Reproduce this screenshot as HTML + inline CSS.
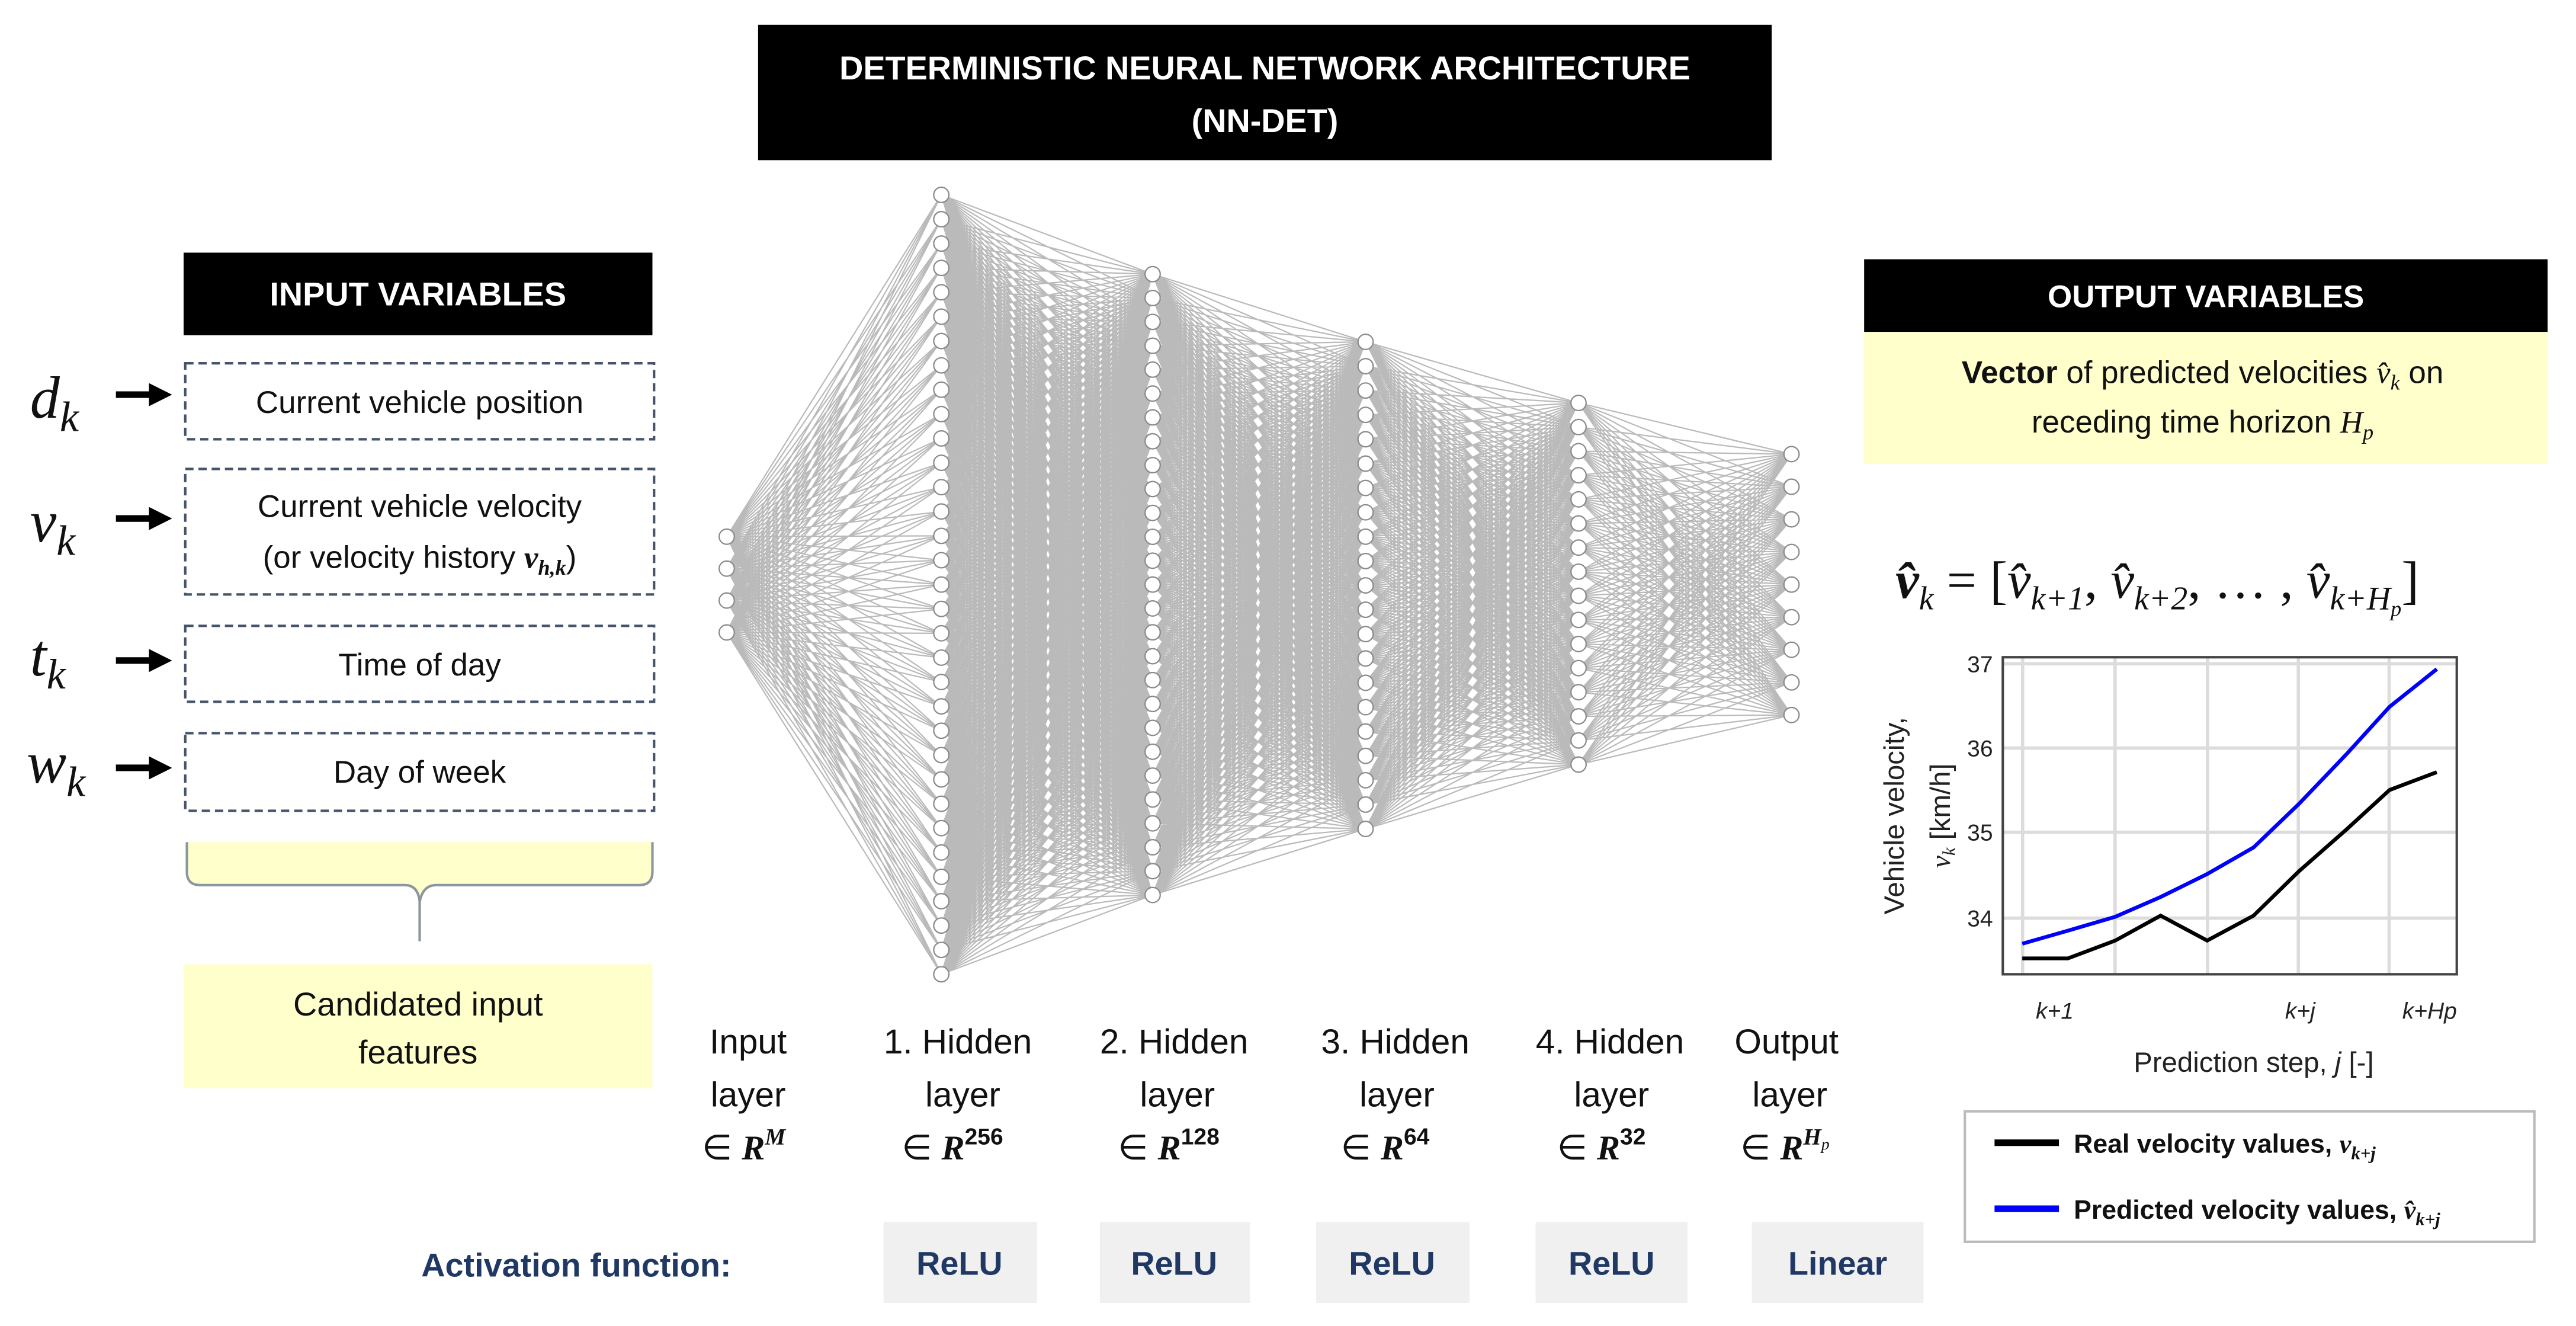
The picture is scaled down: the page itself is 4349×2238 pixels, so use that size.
<!DOCTYPE html>
<html><head><meta charset="utf-8"><style>
html,body{margin:0;padding:0;background:#fff;}
svg{display:block;}
text{font-family:"Liberation Sans",sans-serif;}
.s{font-family:"Liberation Serif",serif;font-style:italic;}
</style></head><body>
<svg id="sv" width="4349" height="2238" viewBox="0 0 1560 803" xmlns="http://www.w3.org/2000/svg">
<rect width="1560" height="803" fill="#fff"/>
<rect x="459" y="15" width="614" height="82" fill="#000"/>
<text x="766" y="48" fill="#fff" font-size="20" font-weight="bold" text-anchor="middle">DETERMINISTIC NEURAL NETWORK ARCHITECTURE</text>
<text x="766" y="80" fill="#fff" font-size="20" font-weight="bold" text-anchor="middle">(NN-DET)</text>
<rect x="111" y="153" width="284" height="50" fill="#000"/>
<text x="253" y="185" fill="#fff" font-size="20" font-weight="bold" text-anchor="middle">INPUT VARIABLES</text>
<g fill="none" stroke="#44546a" stroke-width="1.5" stroke-dasharray="5,3">
<rect x="112" y="220" width="284" height="46"/>
<rect x="112" y="284" width="284" height="76"/>
<rect x="112" y="379" width="284" height="46"/>
<rect x="112" y="444" width="284" height="47"/>
</g>
<g font-size="19" fill="#111" text-anchor="middle">
<text x="254" y="250">Current vehicle position</text>
<text x="254" y="313">Current vehicle velocity</text>
<text x="254" y="344">(or velocity history <tspan class="s" font-weight="bold">v</tspan><tspan class="s" font-size="13" dy="4" font-weight="bold">h,k</tspan><tspan dy="-4">)</tspan></text>
<text x="254" y="409">Time of day</text>
<text x="254" y="474">Day of week</text>
</g>
<g font-size="36" fill="#111">
<text x="18" y="253" class="s">d<tspan font-size="26" dy="8">k</tspan></text>
<text x="18" y="328" class="s">v<tspan font-size="26" dy="8">k</tspan></text>
<text x="18" y="409" class="s">t<tspan font-size="26" dy="8">k</tspan></text>
<text x="16" y="474" class="s">w<tspan font-size="26" dy="8">k</tspan></text>
</g>
<g stroke="#000" stroke-width="4">
<line x1="70" y1="239" x2="92" y2="239"/><line x1="70" y1="314" x2="92" y2="314"/>
<line x1="70" y1="400" x2="92" y2="400"/><line x1="70" y1="465" x2="92" y2="465"/>
</g>
<g fill="#000">
<polygon points="90,232 104,239 90,246"/><polygon points="90,307 104,314 90,321"/>
<polygon points="90,393 104,400 90,407"/><polygon points="90,458 104,465 90,472"/>
</g>
<path d="M113,510 L113,528 Q113,536 121,536 L245,536 Q253,536 254,546 L254,570 L255,546 Q256,536 264,536 L387,536 Q395,536 395,528 L395,510 Z" fill="#ffffcc"/>
<path d="M113,510 L113,528 Q113,536 121,536 L245,536 Q253,536 254,546 L254,570 M254,546 Q256,536 264,536 L387,536 Q395,536 395,528 L395,510" fill="none" stroke="#8a96a0" stroke-width="1.5"/>
<rect x="111" y="584" width="284" height="75" fill="#ffffcc"/>
<text x="253" y="615" font-size="20" text-anchor="middle" fill="#111">Candidated input</text>
<text x="253" y="644" font-size="20" text-anchor="middle" fill="#111">features</text>
<g id="net"></g>
<g font-size="21" fill="#111" text-anchor="middle">
<text x="453" y="638">Input</text><text x="453" y="670">layer</text>
<text x="580" y="638">1. Hidden</text><text x="583" y="670">layer</text>
<text x="711" y="638">2. Hidden</text><text x="713" y="670">layer</text>
<text x="845" y="638">3. Hidden</text><text x="846" y="670">layer</text>
<text x="975" y="638">4. Hidden</text><text x="976" y="670">layer</text>
<text x="1082" y="638">Output</text><text x="1084" y="670">layer</text>
</g>
<g font-size="21" fill="#111">
<text x="425" y="702">∈ <tspan class="s" font-weight="bold">R</tspan><tspan class="s" font-weight="bold" font-size="14" dy="-9">M</tspan></text>
<text x="546" y="702">∈ <tspan class="s" font-weight="bold">R</tspan><tspan font-weight="bold" font-size="14" dy="-9">256</tspan></text>
<text x="677" y="702">∈ <tspan class="s" font-weight="bold">R</tspan><tspan font-weight="bold" font-size="14" dy="-9">128</tspan></text>
<text x="812" y="702">∈ <tspan class="s" font-weight="bold">R</tspan><tspan font-weight="bold" font-size="14" dy="-9">64</tspan></text>
<text x="943" y="702">∈ <tspan class="s" font-weight="bold">R</tspan><tspan font-weight="bold" font-size="14" dy="-9">32</tspan></text>
<text x="1054" y="702">∈ <tspan class="s" font-weight="bold">R</tspan><tspan class="s" font-weight="bold" font-size="14" dy="-9">H</tspan><tspan class="s" font-size="10" dy="3">p</tspan></text>
</g>
<text x="255" y="773" font-size="20" font-weight="bold" fill="#1f3864">Activation function:</text>
<g fill="#f0f0f0">
<rect x="535" y="740" width="93" height="49"/><rect x="666" y="740" width="91" height="49"/>
<rect x="797" y="740" width="93" height="49"/><rect x="930" y="740" width="92" height="49"/>
<rect x="1061" y="740" width="104" height="49"/>
</g>
<g font-size="20" font-weight="bold" fill="#1f3864" text-anchor="middle">
<text x="581" y="772">ReLU</text><text x="711" y="772">ReLU</text><text x="843" y="772">ReLU</text>
<text x="976" y="772">ReLU</text><text x="1113" y="772">Linear</text>
</g>
<rect x="1129" y="157" width="414" height="44" fill="#000"/>
<text x="1336" y="186" fill="#fff" font-size="19" font-weight="bold" text-anchor="middle">OUTPUT VARIABLES</text>
<rect x="1129" y="201" width="414" height="80" fill="#ffffcc"/>
<text x="1334" y="232" font-size="19" text-anchor="middle" fill="#111"><tspan font-weight="bold">Vector</tspan> of predicted velocities <tspan class="s">v̂</tspan><tspan class="s" font-size="13" dy="4">k</tspan><tspan dy="-4">  on</tspan></text>
<text x="1334" y="262" font-size="19" text-anchor="middle" fill="#111">receding time horizon <tspan class="s">H</tspan><tspan class="s" font-size="13" dy="4">p</tspan></text>
<text x="1148" y="362" font-size="32" fill="#111" class="s"><tspan font-weight="bold">v̂</tspan><tspan font-size="20" dy="7">k</tspan><tspan dy="-7" font-style="normal"> = [</tspan>v̂<tspan font-size="20" dy="7">k+1</tspan><tspan dy="-7" font-style="normal">, </tspan>v̂<tspan font-size="20" dy="7">k+2</tspan><tspan dy="-7" font-style="normal">, … , </tspan>v̂<tspan font-size="20" dy="7">k+H</tspan><tspan font-size="13" dy="4">p</tspan><tspan dy="-11" font-style="normal">]</tspan></text>
<g stroke="#dcdcdc" stroke-width="2">
<line x1="1213" y1="402" x2="1488" y2="402"/><line x1="1213" y1="453" x2="1488" y2="453"/>
<line x1="1213" y1="504" x2="1488" y2="504"/><line x1="1213" y1="556" x2="1488" y2="556"/>
<line x1="1225" y1="398" x2="1225" y2="590"/><line x1="1281" y1="398" x2="1281" y2="590"/>
<line x1="1337" y1="398" x2="1337" y2="590"/><line x1="1392" y1="398" x2="1392" y2="590"/>
<line x1="1447" y1="398" x2="1447" y2="590"/>
</g>
<rect x="1213" y="398" width="275" height="192" fill="none" stroke="#444" stroke-width="1.5"/>
<polyline fill="none" stroke="#000" stroke-width="2.3" points="1224.8,580.4 1252.4,580.4 1281.1,569.6 1308.6,554.5 1336.8,569.6 1364.9,554.5 1392.4,527.6 1421.1,502.4 1447.3,478.4 1475.9,467.6"/>
<polyline fill="none" stroke="#0000ff" stroke-width="2.3" points="1224.8,571.5 1252.4,563.6 1281.1,555.2 1308.6,543.2 1336.8,529.3 1364.9,513.2 1392.4,486.8 1421.1,456.8 1447.3,428 1475.9,405.2"/>
<g font-size="14" fill="#222" text-anchor="end">
<text x="1207" y="407">37</text><text x="1207" y="458">36</text><text x="1207" y="509">35</text><text x="1207" y="561">34</text>
</g>
<g font-size="14" fill="#222" font-style="italic">
<text x="1233" y="617">k+1</text><text x="1384" y="617">k+j</text><text x="1455" y="617">k+Hp</text>
</g>
<text x="1365" y="649" font-size="17" fill="#222" text-anchor="middle">Prediction step, <tspan font-style="italic">j</tspan> [-]</text>
<text transform="translate(1153,494) rotate(-90)" font-size="17" fill="#222" text-anchor="middle">Vehicle velocity,</text>
<text transform="translate(1181,494) rotate(-90)" font-size="17" fill="#222" text-anchor="middle"><tspan class="s">v</tspan><tspan class="s" font-size="11" dy="3">k</tspan><tspan dy="-3"> [km/h]</tspan></text>
<rect x="1190" y="673" width="345" height="79" fill="#fff" stroke="#bbb" stroke-width="1.5"/>
<line x1="1208" y1="692" x2="1247" y2="692" stroke="#000" stroke-width="4"/>
<line x1="1208" y1="732" x2="1247" y2="732" stroke="#0000ff" stroke-width="4"/>
<text x="1256" y="698" font-size="16" font-weight="bold" fill="#111">Real velocity values, <tspan class="s">v</tspan><tspan class="s" font-size="11" dy="4">k+j</tspan></text>
<text x="1256" y="738" font-size="16" font-weight="bold" fill="#111">Predicted velocity values, <tspan class="s">v̂</tspan><tspan class="s" font-size="11" dy="4">k+j</tspan></text>
</svg>
<script>
(function(){
var NS="http://www.w3.org/2000/svg";
var layers=[[440,325,383,4],[570,118,590,33],[698,166,542,27],[827,207,502,21],[956,244,463,16],[1085,275,433,9]];
var pts=layers.map(function(L){var a=[];for(var i=0;i<L[3];i++){a.push([L[0],L[1]+(L[2]-L[1])*i/(L[3]-1)]);}return a;});
var g=document.getElementById("net");
var d="";
for(var l=0;l<pts.length-1;l++){
 pts[l].forEach(function(p){pts[l+1].forEach(function(q){d+="M"+p[0]+","+p[1].toFixed(1)+"L"+q[0]+","+q[1].toFixed(1);});});
}
var path=document.createElementNS(NS,"path");
path.setAttribute("d",d);path.setAttribute("stroke","#3a3a3a");path.setAttribute("stroke-opacity","0.35");
path.setAttribute("stroke-width","0.8");path.setAttribute("fill","none");
g.appendChild(path);
pts.forEach(function(a){a.forEach(function(p){
 var c=document.createElementNS(NS,"circle");c.setAttribute("cx",p[0]);c.setAttribute("cy",p[1]);
 c.setAttribute("r","4.6");c.setAttribute("fill","#fff");c.setAttribute("stroke","#8a8a8a");c.setAttribute("stroke-width","0.8");
 g.appendChild(c);});});
})();
</script>
</body></html>
